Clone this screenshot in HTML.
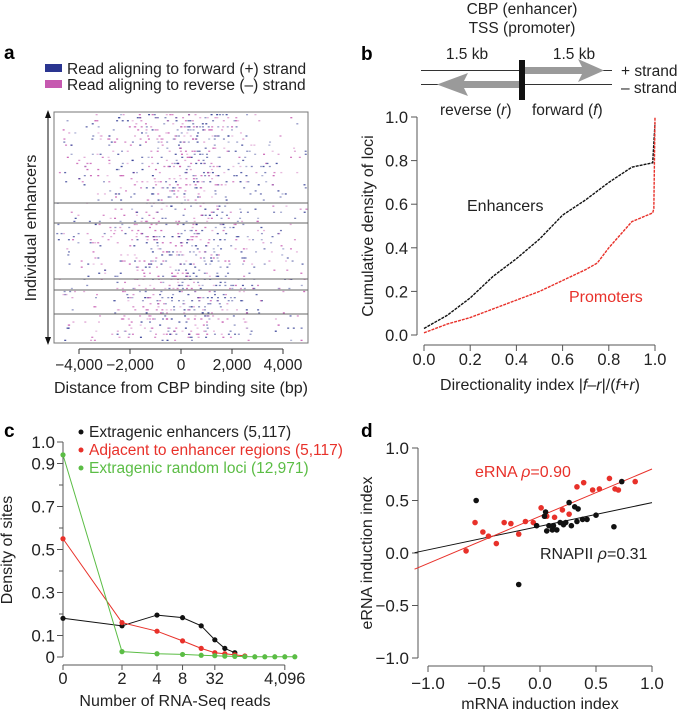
<!DOCTYPE html>
<html><head><meta charset="utf-8"><style>
body{margin:0;background:#fff}
svg{display:block;font-family:"Liberation Sans",sans-serif}
</style></head><body>
<svg id="fig" width="685" height="714" viewBox="0 0 685 714" xmlns="http://www.w3.org/2000/svg">
<!-- Panel a -->
<g>
<text x="4" y="59" font-size="19" font-weight="bold">a</text>
<rect x="45" y="64" width="17" height="8" fill="#2a3590"/>
<text x="67" y="74" font-size="15.5" fill="#222">Read aligning to forward (+) strand</text>
<rect x="45" y="80" width="17" height="8" fill="#c659b0"/>
<text x="67" y="90" font-size="15.5" fill="#222">Read aligning to reverse (–) strand</text>
<g id="raster"></g>
<rect x="54" y="112" width="254" height="231" fill="none" stroke="#777" stroke-width="1"/>
<g stroke="#666" stroke-width="1">
<line x1="54" x2="308" y1="203" y2="203"/><line x1="54" x2="308" y1="223" y2="223"/>
<line x1="54" x2="308" y1="279" y2="279"/><line x1="54" x2="308" y1="290" y2="290"/>
<line x1="54" x2="308" y1="314" y2="314"/></g>
<line x1="48" y1="116" x2="48" y2="339" stroke="#111" stroke-width="1"/>
<path d="M48 110 L45 118 L51 118Z M48 345 L45 337 L51 337Z" fill="#111"/>
<text transform="translate(36,228) rotate(-90)" text-anchor="middle" font-size="16" fill="#222">Individual enhancers</text>
<g id="axA"></g>
<text x="181" y="393" text-anchor="middle" font-size="16" fill="#222">Distance from CBP binding site (bp)</text>
</g>
<!-- Panel b -->
<g>
<text x="522" y="14" text-anchor="middle" font-size="15.5" fill="#222">CBP (enhancer)</text>
<text x="522" y="33" text-anchor="middle" font-size="15.5" fill="#222">TSS (promoter)</text>
<text x="361" y="60" font-size="19" font-weight="bold">b</text>
<text x="467" y="59" text-anchor="middle" font-size="15.5" fill="#222">1.5 kb</text>
<text x="574" y="59" text-anchor="middle" font-size="15.5" fill="#222">1.5 kb</text>
<line x1="421" x2="612" y1="70.5" y2="70.5" stroke="#333"/>
<line x1="421" x2="612" y1="84.5" y2="84.5" stroke="#333"/>
<path d="M524 67 L582 67 L578 59 L604 70.5 L578 82 L582 74 L524 74Z" fill="#9a9a9a"/>
<path d="M522 81 L464 81 L468 73 L437 84.5 L468 96 L464 88 L522 88Z" fill="#9a9a9a"/>
<rect x="519" y="60" width="6" height="40" fill="#111"/>
<text x="621" y="76" font-size="15.5" fill="#222">+ strand</text>
<text x="621" y="93" font-size="15.5" fill="#222">–  strand</text>
<text x="440" y="115" font-size="15.5" fill="#222">reverse (<tspan font-style="italic">r</tspan>)</text>
<text x="532" y="115" font-size="15.5" fill="#222">forward (<tspan font-style="italic">f</tspan>)</text>
<g id="axB"></g>
<g id="curvesB"></g>
<text x="467" y="211" font-size="16" fill="#222">Enhancers</text>
<text x="569" y="302" font-size="16" fill="#e8312a">Promoters</text>
<text transform="translate(373,226) rotate(-90)" text-anchor="middle" font-size="16" fill="#222">Cumulative density of loci</text>
<text x="540" y="390" text-anchor="middle" font-size="16" fill="#222">Directionality index |<tspan font-style="italic">f</tspan>–<tspan font-style="italic">r</tspan>|/(<tspan font-style="italic">f</tspan>+<tspan font-style="italic">r</tspan>)</text>
</g>
<!-- Panel c -->
<g>
<text x="4" y="437" font-size="19" font-weight="bold">c</text>
<circle cx="81" cy="432" r="2.5" fill="#111"/><text x="89" y="437" font-size="15.5" fill="#222">Extragenic enhancers (5,117)</text>
<circle cx="81" cy="450" r="2.5" fill="#e8312a"/><text x="89" y="455" font-size="15.5" fill="#e8312a">Adjacent to enhancer regions (5,117)</text>
<circle cx="81" cy="468" r="2.5" fill="#5bbd45"/><text x="89" y="473" font-size="15.5" fill="#5bbd45">Extragenic random loci (12,971)</text>
<g id="axC"></g>
<g id="seriesC"></g>
<text transform="translate(12,550) rotate(-90)" text-anchor="middle" font-size="16" fill="#222">Density of sites</text>
<text x="175" y="706" text-anchor="middle" font-size="16" fill="#222">Number of RNA-Seq reads</text>
</g>
<!-- Panel d -->
<g>
<text x="361" y="437" font-size="19" font-weight="bold">d</text>
<g id="axD"></g>
<g id="seriesD"></g>
<text x="475" y="477" font-size="16" fill="#e8312a">eRNA <tspan font-style="italic">ρ</tspan>=0.90</text>
<text x="540" y="559" font-size="16" fill="#222">RNAPII <tspan font-style="italic">ρ</tspan>=0.31</text>
<text transform="translate(372,553) rotate(-90)" text-anchor="middle" font-size="16" fill="#222">eRNA induction index</text>
<text x="540" y="709" text-anchor="middle" font-size="16" fill="#222">mRNA induction index</text>
</g>
</svg>
<script>
// ---- Panel b data ----
const dirIdx = [0,0.1,0.2,0.3,0.4,0.5,0.6,0.7,0.8,0.9,0.99,1.0];
const enhCum = [0.03,0.09,0.17,0.27,0.35,0.44,0.55,0.62,0.70,0.77,0.79,0.97];
const promIdx = [0,0.1,0.2,0.3,0.4,0.5,0.6,0.7,0.75,0.8,0.9,0.99,0.995,1.0];
const promCum = [0.01,0.05,0.08,0.12,0.16,0.20,0.25,0.30,0.33,0.40,0.52,0.56,0.58,1.0];
const bTicks = ["0.0","0.2","0.4","0.6","0.8","1.0"];
// ---- Panel c data ----
const readBins = ["0","2","4","8","16","32","64","128","256","512","1,024","2,048","4,096","8,192"];
const cTickLabels = {0:"0",1:"2",2:"4",3:"8",5:"32",12:"4,096"};
const enhDensity = [0.18,0.145,0.195,0.183,0.145,0.08,0.04,0.02];
const adjDensity = [0.55,0.16,0.12,0.075,0.04,0.02,0.015,0.01,0.005];
const rndDensity = [0.94,0.025,0.015,0.012,0.008,0.006,0.004,0.003,0.002,0.001,0.001,0.001,0.001,0.001];
const cYTicks = [0,0.1,0.3,0.5,0.7,0.9,1.0];
const cYLabels = ["0","0.1","0.3","0.5","0.7","0.9","1.0"];
// ---- Panel d data ----
const ernaX = [-0.66,-0.58,-0.51,-0.46,-0.39,-0.32,-0.26,-0.19,-0.13,-0.06,0.01,0.06,0.13,0.20,0.26,0.33,0.39,0.47,0.53,0.62,0.67,0.70,0.85];
const ernaY = [0.02,0.29,0.20,0.16,0.09,0.29,0.28,0.18,0.30,0.29,0.43,0.35,0.34,0.41,0.37,0.63,0.67,0.60,0.61,0.71,0.61,0.60,0.68];
const polX = [-0.57,-0.19,-0.03,0.04,0.05,0.06,0.08,0.11,0.12,0.15,0.18,0.21,0.23,0.26,0.28,0.31,0.33,0.34,0.38,0.42,0.50,0.66,0.73];
const polY = [0.50,-0.30,0.26,0.35,0.39,0.21,0.26,0.22,0.26,0.22,0.29,0.27,0.29,0.48,0.26,0.44,0.30,0.42,0.32,0.32,0.36,0.25,0.68];
const ernaFit = [0.35,0.45];   // intercept, slope
const polFit = [0.255,0.225];
const dTicks = [-1,-0.5,0,0.5,1];
const dLabels = ["−1.0","−0.5","0.0","0.5","1.0"];

const NS="http://www.w3.org/2000/svg";
function mk(tag,attrs,parent){const e=document.createElementNS(NS,tag);for(const k in attrs)e.setAttribute(k,attrs[k]);parent.appendChild(e);return e;}
function txt(x,y,s,parent,anchor,fill){const t=mk('text',{x:x,y:y,'font-size':16,fill:fill||'#222','text-anchor':anchor||'middle'},parent);t.textContent=s;return t;}

// ---- Panel a: raster texture (seeded, decorative) ----
(function(){
  const g=document.getElementById('raster');
  let s=12345;function r(){s=(s*1103515245+12345)%2147483648;return s/2147483648;}
  const ax=document.getElementById('axA');
  const xa=v=>181+v*(51/2000);
  for(let row=0;row<75;row++){
    const y=114+row*3.05;
    const n=10+Math.floor(r()*16);
    for(let k=0;k<n;k++){
      const fwd=r()<0.5;
      let v=(r()+r()+r()-1.5)*2600+(fwd?450:-450);
      if(r()<0.4)v=(r()-0.5)*9800;
      if(v<-4900||v>4900)continue;
      const d=mk('rect',{x:xa(v),y:y,width:2,height:1.3,fill:fwd?'#2a3590':'#c659b0',opacity:0.35+r()*0.55},g);
      
      
    }
  }
  mk('line',{x1:79,x2:283,y1:349,y2:349,stroke:'#333'},ax);
  [-4000,-2000,0,2000,4000].forEach((v,i)=>{mk('line',{x1:xa(v),x2:xa(v),y1:349,y2:354,stroke:'#333'},ax);
    txt(xa(v),370,["−4,000","−2,000","0","2,000","4,000"][i],ax).setAttribute('font-size','15.5');});
})();

// ---- Panel b ----
(function(){
  const ax=document.getElementById('axB'),g=document.getElementById('curvesB');
  const xb=v=>424+v*231, yb=v=>335-v*218;
  mk('line',{x1:417,x2:417,y1:yb(0),y2:yb(1),stroke:'#555'},ax);
  mk('line',{x1:xb(0),x2:xb(1),y1:345,y2:345,stroke:'#555'},ax);
  bTicks.forEach((l,i)=>{const v=i*0.2;
    mk('line',{x1:411,x2:417,y1:yb(v),y2:yb(v),stroke:'#555'},ax);
    txt(408,yb(v)+6,l,ax,'end').setAttribute('font-size','16.5');
    mk('line',{x1:xb(v),x2:xb(v),y1:345,y2:351,stroke:'#555'},ax);
    txt(xb(v),365,l,ax).setAttribute('font-size','16.5');});
  const p1=mk('polyline',{points:dirIdx.map((d,i)=>xb(d)+','+yb(enhCum[i])).join(' '),fill:'none',stroke:'#111','stroke-width':1.4,'stroke-dasharray':'3,1'},g);
  
  const p2=mk('polyline',{points:promIdx.map((d,i)=>xb(d)+','+yb(promCum[i])).join(' '),fill:'none',stroke:'#e8312a','stroke-width':1.4,'stroke-dasharray':'3,1'},g);
  
})();

// ---- Panel c ----
(function(){
  const ax=document.getElementById('axC'),g=document.getElementById('seriesC');
  function xc(i){if(i<=0)return 63;if(i<=1)return 63+59*i;let x=122;for(let k=2;k<=i;k++)x+=Math.max(10,35*Math.pow(0.73,k-2));return x;}
  const yc=v=>657-v*215;
  mk('line',{x1:63,x2:63,y1:yc(0),y2:yc(1),stroke:'#555'},ax);
  for(let k=0;k<=10;k++)mk('line',{x1:59,x2:63,y1:yc(k/10),y2:yc(k/10),stroke:'#555'},ax);
  cYTicks.forEach((v,i)=>{mk('line',{x1:57,x2:63,y1:yc(v),y2:yc(v),stroke:'#555'},ax);txt(55,yc(v)+6,cYLabels[i],ax,'end').setAttribute('font-size','17');});
  mk('line',{x1:63,x2:xc(12),y1:665,y2:665,stroke:'#555'},ax);
  for(const k in cTickLabels){const x=xc(+k);mk('line',{x1:x,x2:x,y1:665,y2:670,stroke:'#555'},ax);txt(x,684,cTickLabels[k],ax).setAttribute('font-size','16.5');}
  [[enhDensity,'#111','enhancers'],[adjDensity,'#e8312a','adjacent'],[rndDensity,'#5bbd45','random']].forEach(([arr,c,n])=>{
    const pl=mk('polyline',{points:arr.map((v,i)=>xc(i)+','+yc(v)).join(' '),fill:'none',stroke:c,'stroke-width':1},g);
    
    arr.forEach((v,i)=>{const d=mk('circle',{cx:xc(i),cy:yc(v),r:2.6,fill:c},g);
      });
  });
})();

// ---- Panel d ----
(function(){
  const ax=document.getElementById('axD'),g=document.getElementById('seriesD');
  const xd=v=>540+v*112, yd=v=>553-v*105;
  mk('line',{x1:418,x2:418,y1:yd(1),y2:yd(-1),stroke:'#555'},ax);
  mk('line',{x1:xd(-1),x2:xd(1),y1:666,y2:666,stroke:'#555'},ax);
  dTicks.forEach((v,i)=>{mk('line',{x1:412,x2:418,y1:yd(v),y2:yd(v),stroke:'#555'},ax);txt(409,yd(v)+6,dLabels[i],ax,'end').setAttribute('font-size','17');
    mk('line',{x1:xd(v),x2:xd(v),y1:666,y2:672,stroke:'#555'},ax);txt(xd(v),689,dLabels[i],ax).setAttribute('font-size','17');});
  const lx0=-1.12,lx1=1;
  const f1=mk('line',{x1:xd(lx0),y1:yd(polFit[0]+polFit[1]*lx0),x2:xd(lx1),y2:yd(polFit[0]+polFit[1]*lx1),stroke:'#111','stroke-width':1},g);
  
  const f2=mk('line',{x1:xd(lx0),y1:yd(ernaFit[0]+ernaFit[1]*lx0),x2:xd(lx1),y2:yd(ernaFit[0]+ernaFit[1]*lx1),stroke:'#e8312a','stroke-width':1},g);
  
  ernaX.forEach((x,i)=>{const d=mk('circle',{cx:xd(x),cy:yd(ernaY[i]),r:2.8,fill:'#e8312a'},g);
    });
  polX.forEach((x,i)=>{const d=mk('circle',{cx:xd(x),cy:yd(polY[i]),r:2.8,fill:'#111'},g);
    });
})();
</script>
</body></html>
